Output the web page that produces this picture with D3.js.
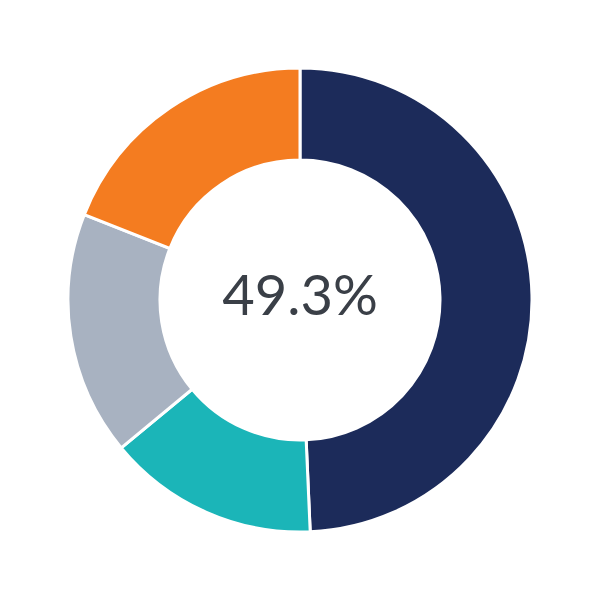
<!DOCTYPE html>
<html>
<head>
<meta charset="utf-8">
<script src="https://cdn.jsdelivr.net/npm/d3@7"></script>
<style>
  html, body { margin: 0; padding: 0; background: #fff; }
</style>
</head>
<body>
<div id="donut"></div>
<script>
// slice data, clockwise from 12 o'clock
var categories = ["A", "B", "C", "D"];
var values = [49.3, 14.7, 17.0, 19.0];
var colors = ["#1c2b5a", "#1bb5b8", "#a8b2c1", "#f47c20"];
var centerLabel = "49.3%";

var width = 600, height = 600,
    outerR = 232, innerR = 140;

var svg = d3.select("#donut")
  .append("svg")
    .attr("width", width)
    .attr("height", height)
  .append("g")
    .attr("transform", "translate(" + width / 2 + "," + height / 2 + ")");

var pie = d3.pie()
  .sort(null)
  .value(function(d) { return d; });

var arc = d3.arc()
  .innerRadius(innerR)
  .outerRadius(outerR);

var color = d3.scaleOrdinal()
  .domain(categories)
  .range(colors);

svg.selectAll("path")
  .data(pie(values))
  .enter()
  .append("path")
    .attr("d", arc)
    .attr("fill", function(d, i) { return color(categories[i]); })
    .attr("stroke", "#fff")
    .attr("stroke-width", 3)
    .attr("stroke-linejoin", "miter");

// center text
svg.append("text")
  .attr("text-anchor", "middle")
  .attr("dy", "0.27em")
  .attr("font-family", "Lato, 'Open Sans', sans-serif")
  .attr("font-size", "56px")
  .attr("fill", "#3a3f47")
  .text(centerLabel);
</script>
</body>
</html>
